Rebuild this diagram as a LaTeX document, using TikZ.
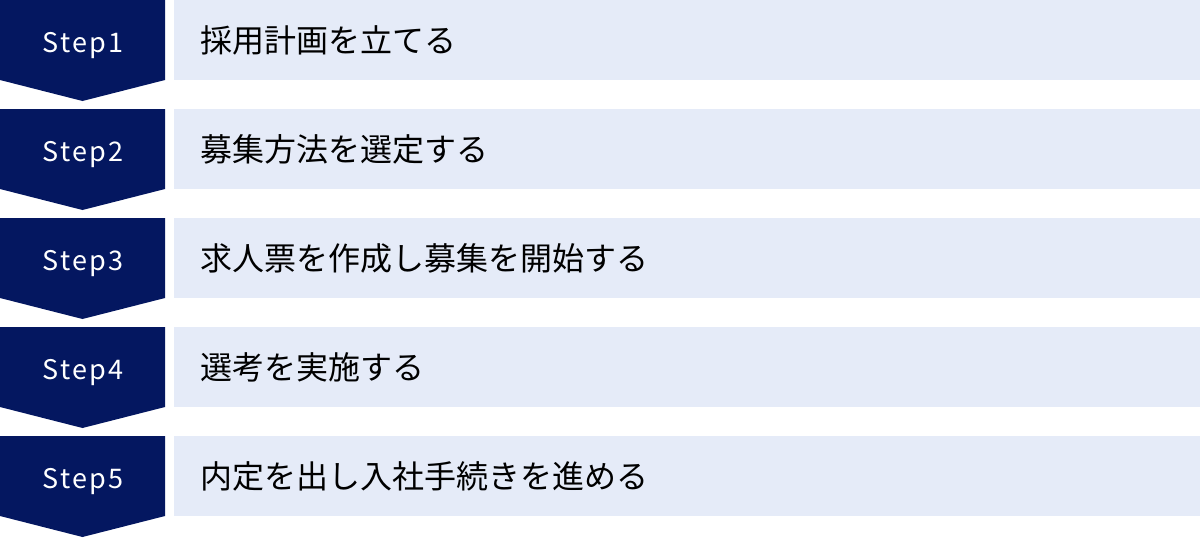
\documentclass[tikz,border=0pt]{standalone}
\usepackage{fontspec}
\newfontfamily\jpfont{Noto Sans CJK JP}
\newfontfamily\stepfont[LetterSpace=9]{Noto Sans CJK JP}
\usepackage{tikz}
\definecolor{stepnavy}{HTML}{041760}
\definecolor{taskbg}{HTML}{E5EBF8}
\tikzset{
    steplabel/.style={text=white, inner sep=0, anchor=base, font=\stepfont\fontsize{27}{27}\selectfont},
    taskbox/.style={fill=taskbg, draw=none, inner sep=0, anchor=north west,
        minimum width=1026pt, minimum height=80pt},
    tasktext/.style={text=black, inner sep=0, anchor=west, font=\jpfont\fontsize{32}{32}\selectfont}
}
\begin{document}
\begin{tikzpicture}[x=1pt, y=-1pt]
    \useasboundingbox (0,0) rectangle (1200,538);
    \foreach \i/\txt in {1/採用計画を立てる,
                         2/募集方法を選定する,
                         3/求人票を作成し募集を開始する,
                         4/選考を実施する,
                         5/内定を出し入社手続きを進める}
    {
        \pgfmathsetmacro\top{(\i-1)*109}
        % navy arrow block
        \fill[stepnavy] (0,\top) -- ++(165,0) -- ++(0,80) -- ++(-82.5,21) -- ++(-82.5,-21) -- cycle;
        \node[steplabel] (step\i) at (83,\top+52) {Step\i};
        % task bar
        \node[taskbox] (task\i) at (174,\top) {};
        \node[tasktext] (text\i) at ([xshift=26pt]task\i.west) {\txt};
    }
\end{tikzpicture}
\end{document}
